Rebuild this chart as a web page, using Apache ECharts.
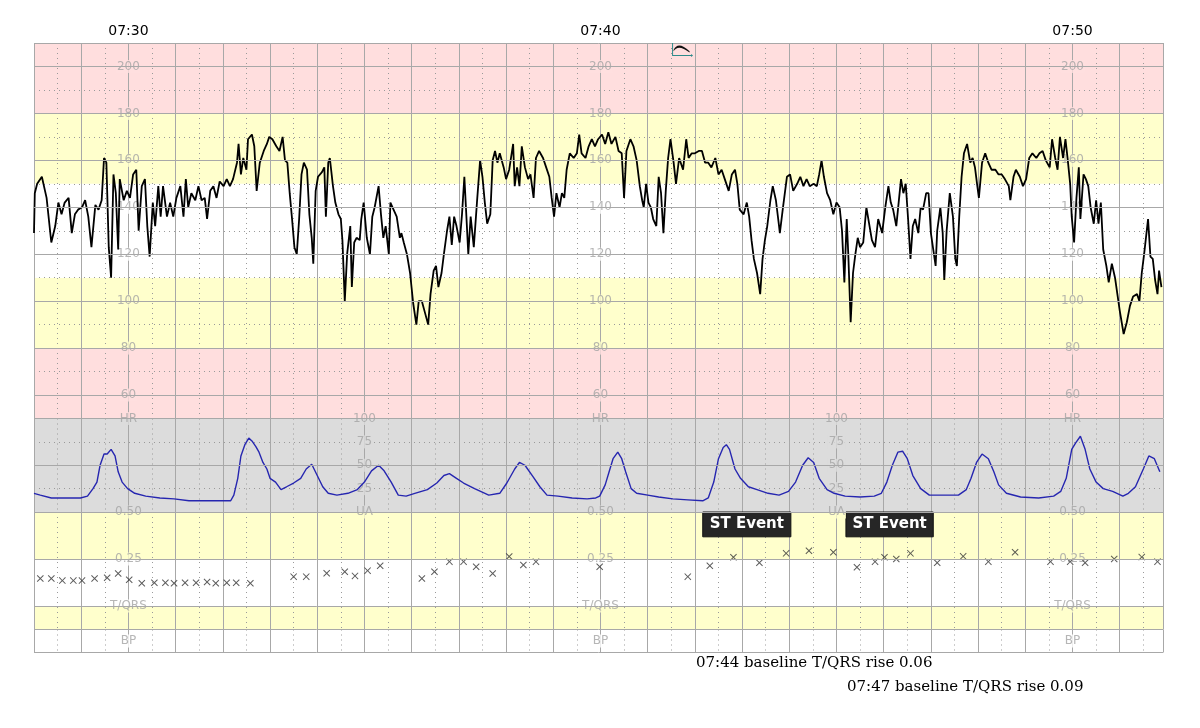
<!DOCTYPE html>
<html><head><meta charset="utf-8">
<script src="https://cdn.jsdelivr.net/npm/echarts@6.0.0/dist/echarts.min.js"></script>
<style>html,body{margin:0;padding:0;background:#fff}#c{width:1200px;height:728px}</style>
</head><body><div id="c"></div>
<script>
// All times are seconds after 07:28:00
const startClock = [7, 28];
const timeMax = 1435;
const timeLabelSeconds = [120, 720, 1320];
const uaLabelSeconds = [420, 1020];

const hrTime = [0,1,4,10,16,22,27,31,35,39,44,48,52,56,61,65,69,73,78,82,86,89,92,95,98,101,104,107,109,114,118,122,126,130,133,137,141,144,147,151,154,158,161,164,169,173,177,181,186,190,193,196,200,205,209,213,217,220,224,228,232,236,241,245,249,253,258,260,263,266,270,272,277,280,283,287,292,296,299,303,308,312,316,319,322,325,328,331,334,337,340,343,347,350,353,355,358,361,366,369,371,374,376,380,383,387,390,392,395,398,402,404,407,410,414,416,419,423,427,430,433,438,441,444,447,451,453,457,461,465,
467,470,474,478,482,486,489,493,497,501,504,508,511,514,518,521,525,528,531,534,537,541,544,547,549,552,555,559,563,567,570,573,576,580,583,586,589,592,597,600,604,609,611,614,617,620,624,628,631,635,638,642,647,651,655,658,661,664,668,671,674,677,681,686,690,693,696,701,705,709,713,717,722,726,730,734,739,743,747,750,753,758,762,766,770,773,775,778,781,784,787,791,794,797,800,803,806,809,813,816,820,825,829,832,836,840,845,849,853,857,861,866,870,874,878,883,887,891,894,897,902,906,909,912,915,919,923,926,929,932,936,939,943,947,
948,952,957,961,965,970,974,978,982,986,991,995,998,1001,1004,1008,1012,1016,1020,1024,1027,1030,1033,1035,1038,1041,1044,1047,1050,1054,1058,1062,1065,1069,1073,1078,1082,1086,1089,1092,1096,1099,1102,1105,1108,1111,1114,1117,1120,1124,1127,1130,1134,1137,1140,1143,1146,1148,1152,1155,1157,1160,1164,1168,1171,1173,1176,1179,1182,1186,1190,1193,1196,1199,1201,1205,1209,1213,1217,1222,1226,1230,1234,1239,1241,1245,1248,1253,1257,1261,1265,1269,1274,1278,1282,1286,1291,1294,1298,1301,1304,1308,1311,1314,1317,1319,1322,1325,1328,1330,1334,1337,1340,1343,1347,1350,1353,1356,1359,1363,1366,1370,1374,1377,1380,1385,1389,1393,1397,1402,1405,1408,1411,1414,1416,1419,1422,1425,1428,1430,1433];
const hrValue = [129,146,150,153,144,125,132,142,137,142,144,129,137,139,140,143,136,123,141,139,143,161,159,123,110,154,146,122,152,143,147,144,154,156,130,149,152,132,119,142,132,149,136,149,136,142,136,144,149,136,152,140,146,143,149,143,144,135,147,149,144,151,149,152,149,152,159,167,154,161,156,169,171,166,147,159,164,167,170,169,166,164,170,160,159,146,135,123,120,135,154,159,156,137,127,116,147,153,155,157,136,159,161,149,142,137,135,126,100,120,132,106,125,127,126,135,142,127,120,136,140,149,137,127,132,120,142,139,136,127,
129,125,120,112,99,90,100,100,95,90,103,113,115,106,112,120,130,136,124,136,132,125,137,153,140,120,136,123,142,160,153,142,133,137,160,164,159,163,157,152,156,167,149,157,149,166,157,152,154,144,161,164,161,157,153,144,136,146,140,146,144,156,163,161,163,171,163,161,166,169,166,169,171,167,172,167,170,164,163,144,164,169,166,160,149,143,140,150,142,140,135,132,153,146,129,147,161,169,159,150,161,156,169,161,163,163,164,164,159,159,157,161,154,156,152,147,154,156,150,139,137,142,136,126,118,112,103,118,126,132,143,149,143,132,
129,140,153,154,147,150,153,149,152,149,150,149,154,160,153,146,143,137,142,140,130,108,135,120,91,112,120,127,123,125,140,132,126,123,135,129,140,149,142,139,132,142,152,146,150,135,118,132,135,129,140,139,146,146,129,122,115,130,140,129,109,130,146,136,118,115,136,153,163,167,159,161,157,149,144,159,163,159,156,156,154,154,152,149,143,153,156,153,149,152,161,163,161,163,164,160,157,169,161,156,170,161,169,160,150,136,125,144,157,135,154,152,149,140,133,143,133,142,122,115,108,116,110,103,96,86,91,98,102,103,100,112,120,129,135,119,118,109,103,113,106];

const uaTime = [0,8,22,40,59,68,75,80,84,89,93,98,103,107,112,119,128,142,160,178,197,215,234,250,254,259,263,268,273,277,282,286,291,296,300,307,314,321,330,339,346,353,360,367,374,385,399,411,420,429,438,445,454,463,473,484,500,512,521,528,537,546,560,578,592,601,611,617,624,634,643,652,666,684,703,714,
719,726,731,736,742,747,752,759,766,780,794,812,831,850,857,864,870,876,880,884,891,898,908,919,933,947,959,968,977,984,991,998,1008,1017,1031,1050,1068,1077,1084,1091,1098,1104,1110,1117,1127,1138,1157,1175,1185,1191,1198,1205,1213,1220,1226,1236,1254,1277,1296,1305,1312,1319,1324,1330,1336,1342,1350,1359,1371,1384,1391,1400,1410,1417,1424,1431];
const uaValue = [20,18,15,15,15,17,25,32,50,62,62,67,60,43,32,25,20,17,15,14,12,12,12,12,18,36,60,72,79,76,70,64,53,46,36,32,24,27,31,36,46,51,39,27,20,18,20,24,32,44,50,44,32,18,17,20,24,31,39,41,36,31,25,18,20,31,46,53,50,38,27,18,17,15,14,15,
17,29,43,57,64,57,43,25,20,18,16,14,13,12,15,32,57,69,72,67,46,36,27,24,20,18,22,32,50,58,53,36,24,20,17,16,17,20,32,50,64,65,57,39,25,18,18,18,24,36,53,62,57,43,29,20,16,15,17,22,36,67,74,81,67,46,32,25,22,17,20,27,46,60,57,43];

const tqrsTime = [8,22,36,50,61,77,93,107,121,137,153,167,178,192,206,220,231,245,257,275,330,346,372,395,408,424,440,493,509,528,546,562,583,604,622,638,719,831,859,889,922,956,985,1016,1046,1069,1081,1096,1114,1148,1181,1213,1247,1292,1317,1336,1373,1408,1428];
const tqrsValue = [0.146,0.146,0.135,0.135,0.135,0.146,0.150,0.173,0.140,0.121,0.124,0.124,0.121,0.124,0.124,0.128,0.121,0.124,0.124,0.121,0.156,0.156,0.174,0.182,0.160,0.188,0.214,0.146,0.182,0.236,0.236,0.209,0.173,0.263,0.218,0.236,0.209,0.156,0.214,0.259,0.230,0.280,0.294,0.286,0.206,0.236,0.259,0.250,0.280,0.230,0.264,0.236,0.286,0.236,0.236,0.230,0.250,0.260,0.236];

const stEvents = [[850, 962], [1032, 1143]];
const stEventLabel = 'ST Event';
const notes = ['07:44 baseline T/QRS rise 0.06', '07:47 baseline T/QRS rise 0.09'];
const eventMarkTime = 811;

const hrScaleValues = [200, 180, 160, 140, 120, 100, 80, 60];
const uaScaleValues = [100, 75, 50, 25];
const tqScaleValues = [0.5, 0.25];
const tqScaleTexts = ['0.50', '0.25'];

// ---------------- styling ----------------
const R = '#ffdede', Y = '#ffffcc', W = '#ffffff', G = '#dcdcdc';
const SOLID = '#a8a8a8', DOT = '#9a9a9a';
const LABEL_COLOR = '#a4a4a4';
function hrBand(v) { return v > 180 ? R : v > 150 ? Y : v > 110 ? W : v > 80 ? Y : R; }
function twoTone(a, b) {
  if (a === b) return a;
  return new echarts.graphic.LinearGradient(0, 0, 0, 1, [
    {offset: 0, color: a}, {offset: 0.5, color: a}, {offset: 0.5, color: b}, {offset: 1, color: b}]);
}
function clock(sec) {
  const m = startClock[0] * 60 + startClock[1] + Math.round(sec / 60);
  const hh = Math.floor(m / 60), mm = m % 60;
  return String(hh).padStart(2, '0') + ':' + String(mm).padStart(2, '0');
}

const grids = [
  {left: 34, right: 37, top: 43, height: 375.5},
  {left: 34, right: 37, top: 418.5, height: 93.5},
  {left: 34, right: 37, top: 512, height: 117.5},
  {left: 34, right: 37, top: 629.5, height: 23}
].map(g => Object.assign(g, {outerBoundsMode: 'none', containLabel: false}));

const xAxes = grids.map((g, i) => ({
  type: 'value', gridIndex: i, min: 0, max: timeMax, interval: 60, position: 'top', z: 1,
  axisLine: {show: false}, axisTick: {show: false},
  axisLabel: i === 0 ? {
    show: true, margin: 5, color: '#000', fontSize: 14, fontFamily: 'DejaVu Sans',
    showMinLabel: false, showMaxLabel: false,
    formatter: v => timeLabelSeconds.indexOf(v) >= 0 ? clock(v) : ''
  } : {show: false},
  splitLine: {show: true, lineStyle: {color: SOLID, width: 1}},
  minorTick: {show: false, splitNumber: 2},
  minorSplitLine: {show: true, lineStyle: {color: DOT, width: 1, type: [1, 4]}}
}));

const baseY = {type: 'value', axisLine: {show: false}, axisTick: {show: false}, axisLabel: {show: false}};
const yAxes = [
  Object.assign({}, baseY, {gridIndex: 0, min: 50, max: 210, interval: 10,
    splitLine: {show: true, lineStyle: {color: DOT, type: [1, 4]}},
    splitArea: {show: true, areaStyle: {color: [R,R,R,Y,Y,Y,W,W,W,W,Y,Y,Y,R,R,R]}}}),
  Object.assign({}, baseY, {gridIndex: 1, min: 0, max: 100, interval: 25,
    splitLine: {show: true, lineStyle: {color: DOT, type: [1, 4]}},
    splitArea: {show: true, areaStyle: {color: [G]}}}),
  Object.assign({}, baseY, {gridIndex: 2, min: -0.125, max: 0.5, interval: 0.125,
    splitLine: {show: false},
    splitArea: {show: true, areaStyle: {color: [Y, W, W, Y, Y]}}}),
  Object.assign({}, baseY, {gridIndex: 3, min: 0, max: 1, interval: 1,
    splitLine: {show: false}, splitArea: {show: false}})
];

const solidLines = [
  [50,60,80,100,120,140,160,180,200,210],
  [0,50,100],
  [-0.125,0,0.25,0.5],
  [0,1]
];

const series = [];
solidLines.forEach((vals, i) => {
  const s = {
    type: 'line', xAxisIndex: i, yAxisIndex: i, data: [], z: 2, silent: true, animation: false,
    markLine: {silent: true, animation: false, symbol: ['none', 'none'], label: {show: false},
      lineStyle: {color: SOLID, type: 'solid', width: 1},
      data: vals.map(v => ({yAxis: v}))}
  };
  if (i === 0) {
    s.markPoint = {silent: true, animation: false, label: {show: false}, data: [
      {coord: [eventMarkTime, 210], symbol: 'path://M0,0L1,0L1,12L19,12L19,11L21,12.5L19,14L19,13L0,13Z',
        symbolSize: [21, 14], symbolOffset: [10.5, 7], itemStyle: {color: '#2e8b8b'}},
      {coord: [eventMarkTime, 210], symbol: 'path://M0,5C3,0 8,0 16,6L16,7C8,2 3,2 0,6Z',
        symbolSize: [16, 7], symbolOffset: [9.5, 6], itemStyle: {color: '#111'}}
    ]};
  }
  if (i === 2) {
    s.markArea = {silent: true, animation: false,
      itemStyle: {color: '#262626', borderColor: '#111', borderWidth: 1},
      label: {show: true, position: 'inside', formatter: stEventLabel, color: '#fff',
        fontWeight: 'bold', fontSize: 15, fontFamily: 'DejaVu Sans'},
      data: stEvents.map(e => [{xAxis: e[0], yAxis: 0.5}, {xAxis: e[1], yAxis: 0.368}])};
    s.z = 5;
  }
  series.push(s);
});

// inline scale labels
function labelSeries(idx, items) {
  return {
    type: 'scatter', xAxisIndex: idx, yAxisIndex: idx, z: 3, silent: true, clip: false, animation: false,
    symbolSize: 1, itemStyle: {color: 'rgba(0,0,0,0)'},
    label: {show: true, position: 'inside', formatter: '{b}', color: LABEL_COLOR, fontSize: 12,
      fontFamily: 'DejaVu Sans', lineHeight: 13, padding: [0, 1]},
    data: items
  };
}
const hrItems = [], uaItems = [], tqItems = [], bpItems = [];
timeLabelSeconds.forEach(t => {
  hrScaleValues.forEach(v => hrItems.push({name: String(v), value: [t, v],
    label: {backgroundColor: twoTone(hrBand(v + 1), hrBand(v - 1))}}));
  hrItems.push({name: 'HR', value: [t, 50], label: {backgroundColor: twoTone(R, G)}});
  tqScaleValues.forEach((v, k) => tqItems.push({name: tqScaleTexts[k], value: [t, v],
    label: {backgroundColor: k === 0 ? twoTone(G, Y) : twoTone(Y, W)}}));
  tqItems.push({name: 'T/QRS', value: [t, 0], label: {backgroundColor: twoTone(W, Y)}});
  bpItems.push({name: 'BP', value: [t, 0.5], label: {backgroundColor: W}});
});
uaLabelSeconds.forEach(t => {
  uaScaleValues.forEach(v => uaItems.push({name: String(v), value: [t, v],
    label: {backgroundColor: v === 100 ? twoTone(R, G) : G}}));
  uaItems.push({name: 'UA', value: [t, 0], label: {backgroundColor: twoTone(G, Y)}});
});
series.push(labelSeries(0, hrItems), labelSeries(1, uaItems), labelSeries(2, tqItems), labelSeries(3, bpItems));

// traces
series.push({
  type: 'line', name: 'FHR', xAxisIndex: 0, yAxisIndex: 0, z: 4, animation: false, silent: true,
  symbol: 'none', lineStyle: {color: '#000', width: 1.8},
  data: hrTime.map((t, i) => [t, hrValue[i]])
});
series.push({
  type: 'line', name: 'UA', xAxisIndex: 1, yAxisIndex: 1, z: 4, animation: false, silent: true,
  symbol: 'none', lineStyle: {color: '#2626b0', width: 1.4},
  data: uaTime.map((t, i) => [t, uaValue[i]])
});
series.push({
  type: 'scatter', name: 'T/QRS', xAxisIndex: 2, yAxisIndex: 2, z: 4, animation: false, silent: true,
  symbol: 'path://M0,1L1,0L5,4L9,0L10,1L6,5L10,9L9,10L5,6L1,10L0,9L4,5Z', symbolSize: 7,
  itemStyle: {color: '#333'},
  data: tqrsTime.map((t, i) => [t, tqrsValue[i]])
});

const chart = echarts.init(document.getElementById('c'), null, {renderer: 'canvas'});
chart.setOption({
  animation: false,
  backgroundColor: '#fff',
  grid: grids, xAxis: xAxes, yAxis: yAxes, series: series,
  graphic: [
    {type: 'text', left: 696, top: 656, style: {text: notes[0], fill: '#000', font: '15px "DejaVu Serif"'}},
    {type: 'text', left: 847, top: 680, style: {text: notes[1], fill: '#000', font: '15px "DejaVu Serif"'}}
  ]
});
</script></body></html>
